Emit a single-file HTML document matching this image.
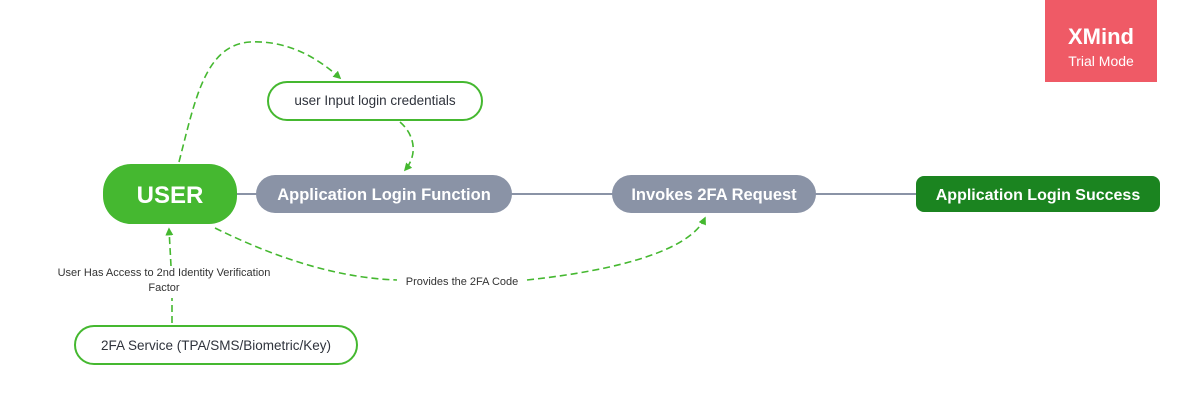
<!DOCTYPE html>
<html><head><meta charset="utf-8"><style>
html,body{margin:0;padding:0;background:#fff;width:1200px;height:404px;overflow:hidden}
svg text{font-family:"Liberation Sans",sans-serif}
</style></head><body>
<svg width="1200" height="404" viewBox="0 0 1200 404" xmlns="http://www.w3.org/2000/svg">
<defs>
<marker id="a" viewBox="0 0 10 10" refX="8" refY="5" markerWidth="5" markerHeight="5" orient="auto"><path d="M0,0 L10,5 L0,10 z" fill="#45b830"/></marker>
</defs>
<line x1="237" y1="194" x2="916" y2="194" stroke="#8a93a6" stroke-width="2"/>
<rect x="103" y="164" width="134" height="60" rx="28" fill="#45b830"/>
<text x="170" y="203" text-anchor="middle" font-size="24" font-weight="bold" fill="#fff">USER</text>
<rect x="256" y="175" width="256" height="38" rx="19" fill="#8a93a6"/>
<text x="384" y="200" text-anchor="middle" font-size="16.5" font-weight="bold" fill="#fff">Application Login Function</text>
<rect x="612" y="175" width="204" height="38" rx="19" fill="#8a93a6"/>
<text x="714" y="200" text-anchor="middle" font-size="16.5" font-weight="bold" fill="#fff">Invokes 2FA Request</text>
<rect x="916" y="176" width="244" height="36" rx="8" fill="#1b8420"/>
<text x="1038" y="200" text-anchor="middle" font-size="16" font-weight="bold" fill="#fff">Application Login Success</text>
<rect x="268" y="82" width="214" height="38" rx="19" fill="#fff" stroke="#45b830" stroke-width="2"/>
<text x="375" y="105" text-anchor="middle" font-size="13.5" fill="#2f333c">user Input login credentials</text>
<rect x="75" y="326" width="282" height="38" rx="19" fill="#fff" stroke="#45b830" stroke-width="2"/>
<text x="216" y="350" text-anchor="middle" font-size="13.5" fill="#2f333c">2FA Service (TPA/SMS/Biometric/Key)</text>
<g fill="none" stroke="#45b830" stroke-width="1.6" stroke-dasharray="7,4">
<path d="M179,162 C195,100 205,45 250,42 C290,40 320,60 340,78" marker-end="url(#a)"/>
<path d="M400,122 C415,135 418,155 405,170" marker-end="url(#a)"/>
<path d="M215,228 C280,260 340,278 397,280" />
<path d="M527,280 C620,270 690,250 705,218" marker-end="url(#a)"/>
<path d="M172,323 L172,298"/>
<path d="M171,266 L169,229" marker-end="url(#a)"/>
</g>
<text x="164" y="276" text-anchor="middle" font-size="11" fill="#333">User Has Access to 2nd Identity Verification</text>
<text x="164" y="291" text-anchor="middle" font-size="11" fill="#333">Factor</text>
<text x="462" y="285" text-anchor="middle" font-size="11" fill="#333">Provides the 2FA Code</text>
<rect x="1045" y="0" width="112" height="82" fill="#ef5a66"/>
<text x="1101" y="44" text-anchor="middle" font-size="22" font-weight="bold" fill="#fff">XMind</text>
<text x="1101" y="66" text-anchor="middle" font-size="14" fill="#fff">Trial Mode</text>
</svg>
</body></html>
